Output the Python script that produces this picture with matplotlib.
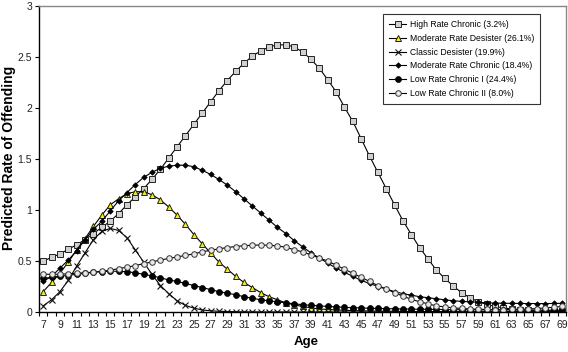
import numpy as np
import matplotlib
matplotlib.use('Agg')
import matplotlib.pyplot as plt
from matplotlib.ticker import FixedLocator

plt.rcParams['font.family'] = ['Liberation Sans', 'DejaVu Sans']

ages = list(range(7, 70))

# 読み取り値 (年齢 7..69)
high_rate_chronic = [
    0.50, 0.535, 0.57, 0.615, 0.66, 0.71, 0.77, 0.83, 0.89, 0.965,
    1.05, 1.13, 1.21, 1.30, 1.40, 1.51, 1.62, 1.73, 1.84, 1.95,
    2.06, 2.17, 2.27, 2.36, 2.44, 2.51, 2.56, 2.60, 2.62, 2.62,
    2.60, 2.55, 2.48, 2.39, 2.28, 2.16, 2.01, 1.87, 1.70, 1.53,
    1.37, 1.21, 1.05, 0.895, 0.76, 0.63, 0.52, 0.41, 0.33, 0.255,
    0.19, 0.14, 0.10, 0.075, 0.055, 0.04, 0.03, 0.022, 0.016, 0.012,
    0.01, 0.01, 0.012]

moderate_rate_desister = [
    0.20, 0.29, 0.38, 0.49, 0.61, 0.72, 0.84, 0.95, 1.05, 1.11,
    1.16, 1.18, 1.18, 1.15, 1.10, 1.03, 0.95, 0.86, 0.76, 0.67,
    0.58, 0.49, 0.42, 0.35, 0.29, 0.24, 0.19, 0.15, 0.12, 0.09,
    0.07, 0.055, 0.04, 0.03, 0.025, 0.02, 0.017, 0.014, 0.012, 0.01,
    0.009, 0.008, 0.007, 0.006, 0.005, 0.005, 0.004, 0.004, 0.004, 0.003,
    0.003, 0.003, 0.003, 0.003, 0.003, 0.003, 0.003, 0.003, 0.003, 0.003,
    0.003, 0.003, 0.003]

classic_desister = [
    0.06, 0.12, 0.20, 0.31, 0.45, 0.58, 0.71, 0.79, 0.82, 0.80,
    0.73, 0.61, 0.49, 0.37, 0.26, 0.18, 0.11, 0.065, 0.038, 0.02,
    0.012, 0.007, 0.005, 0.003, 0.002, 0.002, 0.001, 0.001, 0.001, 0.001,
    0.0, 0.0, 0.0, 0.0, 0.0, 0.0, 0.0, 0.0, 0.0, 0.0,
    0.0, 0.0, 0.0, 0.0, 0.0, 0.0, 0.0, 0.0, 0.0, 0.0,
    0.0, 0.0, 0.0, 0.0, 0.0, 0.0, 0.0, 0.0, 0.0, 0.0,
    0.0, 0.0, 0.0]

moderate_rate_chronic = [
    0.30, 0.35, 0.43, 0.51, 0.60, 0.71, 0.81, 0.89, 0.99, 1.09,
    1.17, 1.25, 1.32, 1.37, 1.41, 1.43, 1.44, 1.44, 1.425, 1.39,
    1.35, 1.30, 1.245, 1.18, 1.11, 1.04, 0.97, 0.90, 0.83, 0.77,
    0.70, 0.64, 0.58, 0.53, 0.48, 0.43, 0.39, 0.35, 0.31, 0.28,
    0.25, 0.225, 0.20, 0.18, 0.165, 0.15, 0.14, 0.13, 0.12, 0.11,
    0.105, 0.10, 0.095, 0.09, 0.088, 0.086, 0.085, 0.084, 0.083, 0.083,
    0.083, 0.084, 0.085]

low_rate_chronic_1 = [
    0.33, 0.34, 0.35, 0.36, 0.37, 0.38, 0.39, 0.395, 0.40, 0.40,
    0.395, 0.385, 0.37, 0.355, 0.335, 0.315, 0.30, 0.28, 0.26, 0.24,
    0.22, 0.20, 0.185, 0.17, 0.15, 0.135, 0.12, 0.11, 0.10, 0.09,
    0.08, 0.072, 0.065, 0.06, 0.055, 0.05, 0.045, 0.042, 0.04, 0.037,
    0.035, 0.033, 0.031, 0.03, 0.028, 0.027, 0.026, 0.025, 0.024, 0.023,
    0.022, 0.022, 0.021, 0.021, 0.02, 0.02, 0.02, 0.019, 0.019, 0.019,
    0.018, 0.018, 0.018]

low_rate_chronic_2 = [
    0.37, 0.37, 0.37, 0.375, 0.38, 0.385, 0.39, 0.40, 0.41, 0.425,
    0.44, 0.455, 0.475, 0.49, 0.51, 0.525, 0.54, 0.555, 0.57, 0.59,
    0.605, 0.62, 0.632, 0.642, 0.65, 0.655, 0.657, 0.655, 0.648, 0.635,
    0.61, 0.59, 0.56, 0.53, 0.50, 0.46, 0.42, 0.38, 0.34, 0.30,
    0.26, 0.225, 0.19, 0.155, 0.125, 0.10, 0.08, 0.06, 0.05, 0.04,
    0.035, 0.03, 0.027, 0.025, 0.024, 0.024, 0.025, 0.027, 0.03, 0.034,
    0.04, 0.046, 0.055]

labels = [
    'High Rate Chronic (3.2%)',
    'Moderate Rate Desister (26.1%)',
    'Classic Desister (19.9%)',
    'Moderate Rate Chronic (18.4%)',
    'Low Rate Chronic I (24.4%)',
    'Low Rate Chronic II (8.0%)',
]

series = [high_rate_chronic, moderate_rate_desister, classic_desister,
          moderate_rate_chronic, low_rate_chronic_1, low_rate_chronic_2]

styles = [
    dict(marker='s', ms=4.0, mfc='#d0d0d0', mec='#222222', mew=0.7),
    dict(marker='^', ms=4.2, mfc='#f4f400', mec='#222222', mew=0.7),
    dict(marker='x', ms=4.2, mfc='none', mec='#111111', mew=0.8),
    dict(marker='D', ms=2.8, mfc='black', mec='black', mew=0.5),
    dict(marker='o', ms=4.3, mfc='black', mec='black', mew=0.5),
    dict(marker='o', ms=4.0, mfc='#e8e8e8', mec='#333333', mew=0.7),
]

fig = plt.figure(figsize=(5.68, 3.52), dpi=100)
ax = fig.add_axes([0.0687, 0.1136, 0.928, 0.869])

for vals, lab, st in zip(series, labels, styles):
    ax.plot(ages, vals, color='black', lw=0.8, label=lab, **st)

ax.set_xlim(6.5, 69.5)
ax.set_ylim(0, 3)

# x軸: カテゴリ境界に目盛り、奇数年にラベル
ax.xaxis.set_major_locator(FixedLocator(ages[::2]))
ax.xaxis.set_minor_locator(FixedLocator(np.arange(6.5, 70, 1)))
ax.tick_params(axis='x', which='major', length=0, labelsize=7.5, pad=6,
               labelcolor='#222222')
ax.tick_params(axis='x', which='minor', length=3, width=0.8, direction='out')
ax.set_yticks([0, 0.5, 1, 1.5, 2, 2.5, 3])
ax.set_yticklabels(['0', '0.5', '1', '1.5', '2', '2.5', '3'])
ax.tick_params(axis='y', length=3, width=0.8, direction='out', labelsize=7.5,
               labelcolor='#222222', pad=2)

for side in ['top', 'right']:
    ax.spines[side].set_color('#888888')
    ax.spines[side].set_linewidth(1.0)
for side in ['left', 'bottom']:
    ax.spines[side].set_color('black')
    ax.spines[side].set_linewidth(1.0)

ax.set_xlabel('Age', fontsize=9.5, fontweight='bold')
ax.xaxis.set_label_coords(0.507, -0.078)
ax.set_ylabel('Predicted Rate of Offending', fontsize=10, fontweight='bold')
ax.yaxis.set_label_coords(-0.0445, 0.503)

leg = ax.legend(loc='upper right', bbox_to_anchor=(0.9507, 0.974),
                fontsize=6.2, frameon=True, fancybox=False, borderaxespad=0,
                handlelength=2.0, handletextpad=0.4, labelspacing=0.55,
                borderpad=0.7)
leg.get_frame().set_edgecolor('black')
leg.get_frame().set_linewidth(0.8)

plt.savefig('out.png', dpi=100)
